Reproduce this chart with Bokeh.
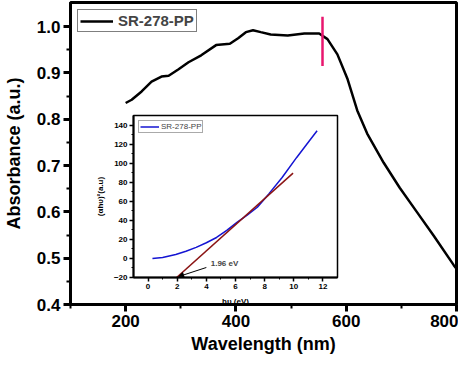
from bokeh.plotting import figure
from bokeh.models import (GridBox, Column, Legend, LegendItem, Arrow, NormalHead, Label,
                          FixedTicker, PrintfTickFormatter)
from bokeh.embed import file_html
from bokeh.resources import INLINE

# ---- main spectrum data ----
wavelength = [200, 211, 229, 247, 265, 278, 296, 314, 337, 364, 389, 404, 418, 431, 445, 463,
              494, 524, 551, 566, 584, 602, 620, 638, 668, 697, 728, 759, 795, 800]
absorbance = [0.835, 0.842, 0.860, 0.881, 0.892, 0.894, 0.908, 0.923, 0.938, 0.960, 0.963, 0.975,
              0.988, 0.992, 0.988, 0.983, 0.981, 0.985, 0.985, 0.973, 0.940, 0.888, 0.819, 0.769,
              0.706, 0.652, 0.600, 0.548, 0.485, 0.477]
edge_nm = [557]
edge_abs = [0.915, 1.021]
x_ticks = [200, 400, 600, 800]
x_minor = [100, 300, 500, 700]
y_ticks = [0.4, 0.5, 0.6, 0.7, 0.8, 0.9, 1.0]
y_minor = [0.45, 0.55, 0.65, 0.75, 0.85, 0.95]

# ---- inset Tauc plot data ----
hv = [0.3, 1.0, 1.9, 2.6, 3.3, 4.0, 4.7, 5.4, 6.1, 6.8, 7.5, 8.3, 9.2, 10.2, 11.1, 11.6]
ahv2 = [0.0, 1.0, 4.2, 7.5, 11.6, 16.5, 22.0, 29.5, 37.9, 45.5, 53.7, 68.0, 85.0, 106.0, 124.0, 134.0]
fit_hv = [1.96, 9.95]
fit_y = [-20, 89.5]
arrow_tail = [4.0, -9.5]
arrow_head = [2.1, -19.0]
gap_label = "1.96 eV"
gap_label_pos = [4.3, -5.0]
inset_x_ticks = [0, 2, 4, 6, 8, 10, 12]
inset_x_minor = [1, 3, 5, 7, 9, 11]
inset_y_ticks = [-20, 0, 20, 40, 60, 80, 100, 120, 140]
inset_y_minor = [-10, 10, 30, 50, 70, 90, 110, 130]

FONT = "Liberation Sans"

# ---------------- main figure ----------------
p = figure(width=458, height=356, x_range=(100, 800), y_range=(0.4, 1.052),
           output_backend="svg", toolbar_location=None,
           min_border_left=70, min_border_right=2, min_border_top=2, min_border_bottom=52)
p.grid.visible = False
p.outline_line_color = "black"
p.outline_line_width = 3

main_line = p.line(wavelength, absorbance, line_color="black", line_width=2.5)
p.segment(x0=edge_nm, y0=[edge_abs[0]], x1=edge_nm, y1=[edge_abs[1]],
          line_color="#E8166E", line_width=2.5)

for ax in (p.xaxis[0], p.yaxis[0]):
    ax.axis_line_width = 3
    ax.major_tick_line_width = 3
    ax.minor_tick_line_width = 2
    ax.major_tick_in = 0
    ax.major_tick_out = 7
    ax.minor_tick_in = 0
    ax.minor_tick_out = 4
    ax.major_label_text_font = FONT
    ax.major_label_text_font_style = "bold"
    ax.major_label_text_font_size = "17px"
    ax.major_label_text_color = "black"
    ax.axis_label_text_font = FONT
    ax.axis_label_text_font_style = "bold"
    ax.axis_label_text_font_size = "18px"
    ax.axis_label_text_color = "black"

p.xaxis[0].ticker = FixedTicker(ticks=x_ticks, minor_ticks=x_minor)
p.yaxis[0].ticker = FixedTicker(ticks=y_ticks, minor_ticks=y_minor)
p.yaxis[0].formatter = PrintfTickFormatter(format="%.1f")
p.xaxis.axis_label = "Wavelength (nm)"
p.yaxis.axis_label = "Absorbance (a.u.)"
p.xaxis.major_label_standoff = 3
p.xaxis.axis_label_standoff = 4
p.yaxis.major_label_standoff = 3
p.yaxis.axis_label_standoff = 10

leg = Legend(items=[LegendItem(label="SR-278-PP", renderers=[main_line])],
             location="top_left")
leg.margin = 7
leg.padding = 2
leg.label_text_font = FONT
leg.label_text_font_style = "bold"
leg.label_text_font_size = "15px"
leg.glyph_width = 33
leg.glyph_height = 12
leg.label_standoff = 5
leg.label_height = 12
leg.border_line_color = "black"
leg.border_line_width = 1
p.add_layout(leg)

# ---------------- inset figure ----------------
q = figure(width=252, height=201, x_range=(-1, 13), y_range=(-20, 150),
           output_backend="svg", toolbar_location=None,
           min_border_left=42, min_border_right=6, min_border_top=3, min_border_bottom=36)
q.grid.visible = False
q.border_fill_alpha = 0
q.background_fill_color = "white"
q.outline_line_color = "black"
q.outline_line_width = 1.5

tauc_line = q.line(hv, ahv2, line_color="#1414D2", line_width=1.5)
q.line(fit_hv, fit_y, line_color="#8B1414", line_width=1.5)

q.add_layout(Arrow(end=NormalHead(size=5, fill_color="black", line_color="black"),
                   x_start=arrow_tail[0], y_start=arrow_tail[1],
                   x_end=arrow_head[0], y_end=arrow_head[1],
                   line_color="black", line_width=1))
q.add_layout(Label(x=gap_label_pos[0], y=gap_label_pos[1], text=gap_label,
                   text_font=FONT, text_font_style="bold", text_font_size="8px",
                   text_baseline="middle", text_align="left"))

for ax in (q.xaxis[0], q.yaxis[0]):
    ax.axis_line_width = 2
    ax.major_tick_line_width = 1.5
    ax.minor_tick_line_width = 1
    ax.major_tick_in = 0
    ax.major_tick_out = 4
    ax.minor_tick_in = 0
    ax.minor_tick_out = 2
    ax.major_label_text_font = FONT
    ax.major_label_text_font_style = "bold"
    ax.major_label_text_font_size = "8px"
    ax.major_label_text_color = "black"
    ax.axis_label_text_font = FONT
    ax.axis_label_text_font_style = "bold"
    ax.axis_label_text_font_size = "8px"
    ax.axis_label_text_color = "black"

q.xaxis[0].ticker = FixedTicker(ticks=inset_x_ticks, minor_ticks=inset_x_minor)
q.yaxis[0].ticker = FixedTicker(ticks=inset_y_ticks, minor_ticks=inset_y_minor)
q.xaxis.axis_label = "hυ (eV)"
q.yaxis.axis_label = "(αhυ)²(a.u)"
q.xaxis.major_label_standoff = 2
q.xaxis.axis_label_standoff = 5
q.yaxis.major_label_standoff = 2
q.yaxis.axis_label_standoff = 6

leg2 = Legend(items=[LegendItem(label="SR-278-PP", renderers=[tauc_line])],
              location="top_left")
leg2.margin = 5
leg2.padding = 1
leg2.label_text_font = FONT
leg2.label_text_font_size = "8px"
leg2.glyph_width = 19
leg2.glyph_height = 7
leg2.label_standoff = 2
leg2.label_height = 7
leg2.border_line_color = "#555555"
leg2.border_line_width = 1
q.add_layout(leg2)

inset_box = Column(children=[q], margin=(112, 0, 0, 91))
layout = GridBox(children=[(p, 0, 0), (inset_box, 0, 0)])

open("out.html", "w").write(file_html(layout, INLINE))
